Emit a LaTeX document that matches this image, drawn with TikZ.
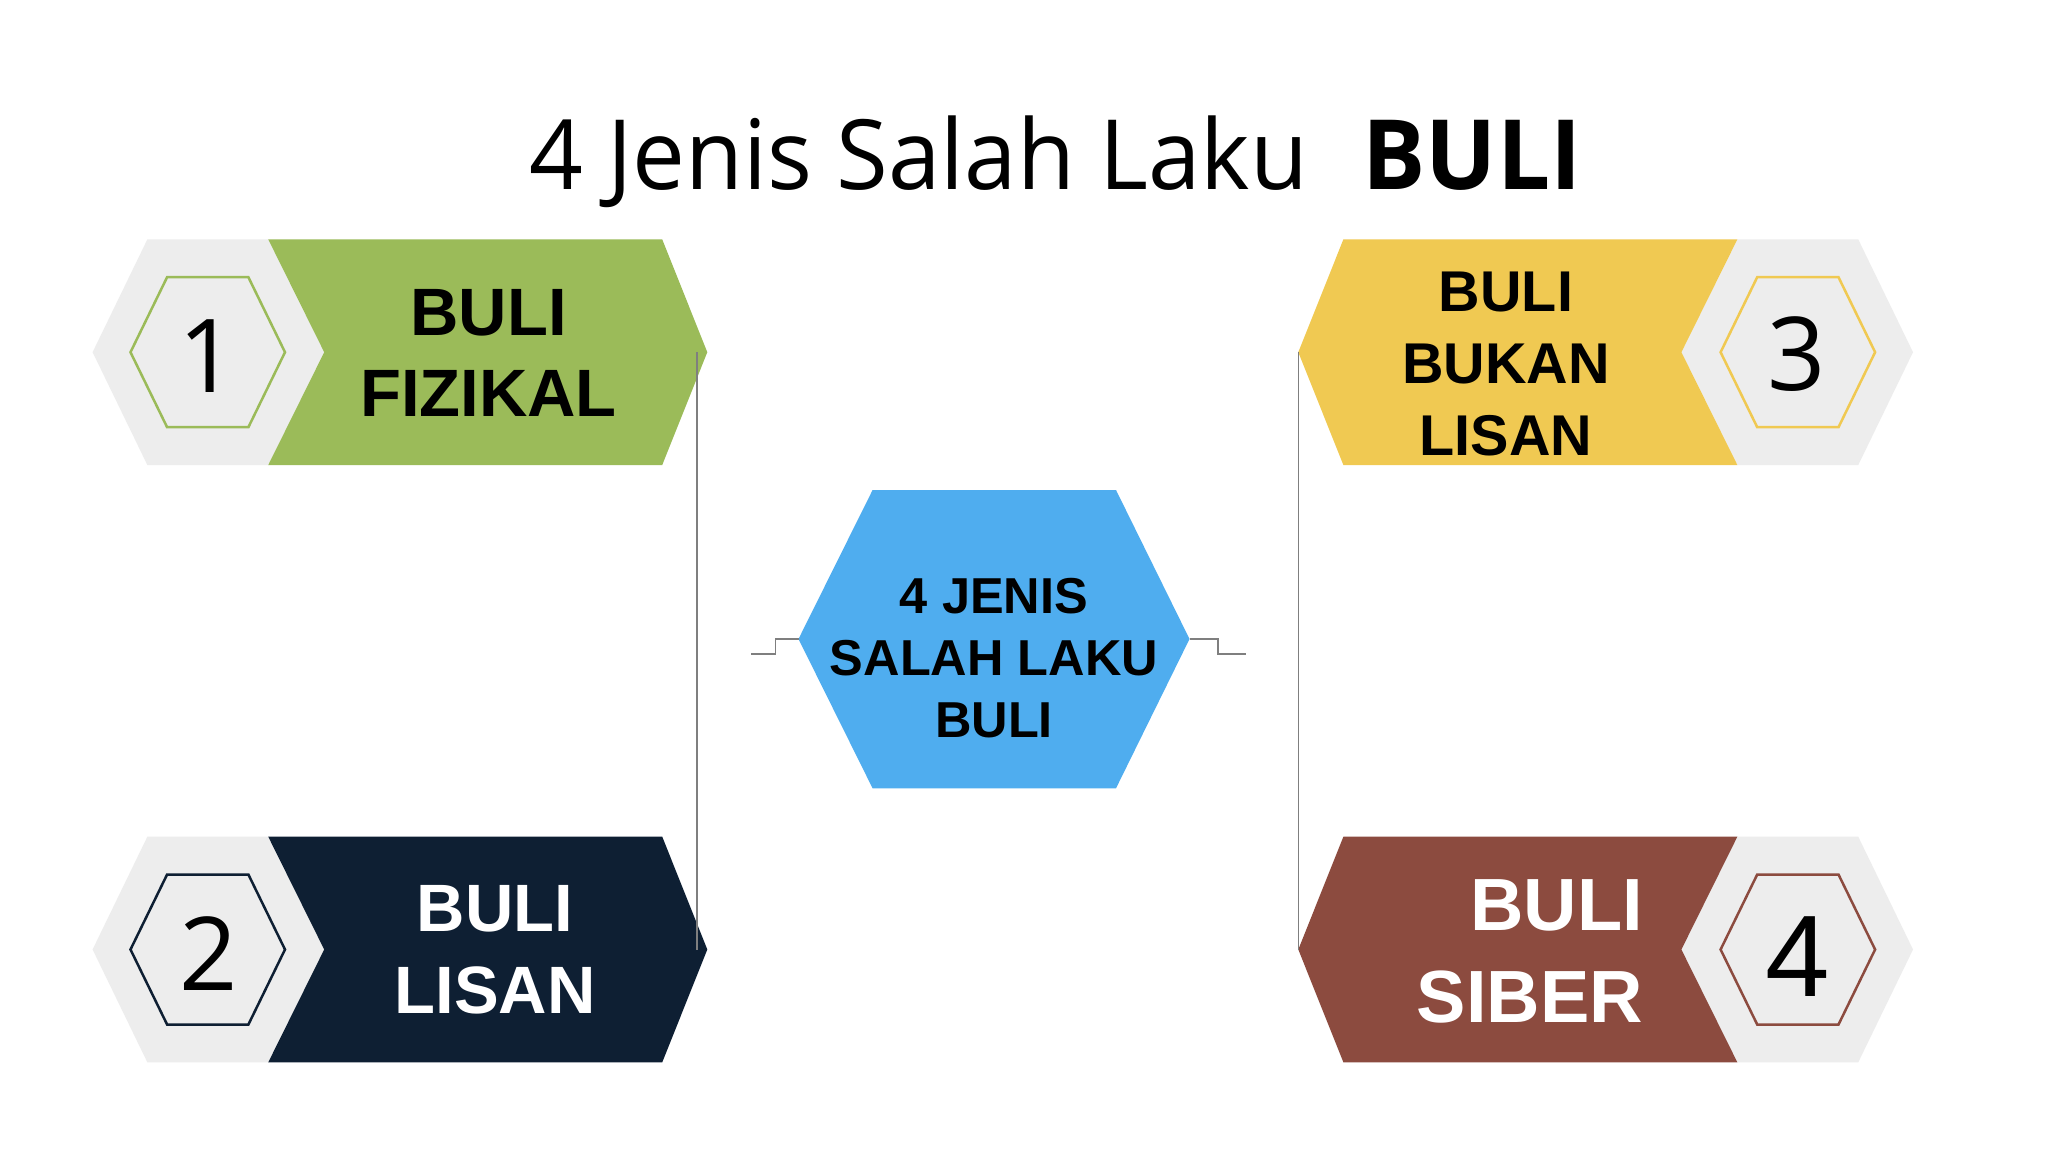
\documentclass[tikz,border=0pt]{standalone}
\usepackage{fontspec}
\setmainfont{Liberation Sans}
\newfontfamily\titlefont{Open Sans}
\newfontfamily\armfont{Liberation Sans}
\definecolor{hexgray}{HTML}{EDEDED}
\definecolor{cgreen}{HTML}{9BBB59}
\definecolor{cnavy}{HTML}{0E1F33}
\definecolor{cyellow}{HTML}{F0C952}
\definecolor{cbrown}{HTML}{8C4B3F}
\definecolor{cblue}{HTML}{4FADEF}
\definecolor{connline}{HTML}{7F7F7F}
\begin{document}
\begin{tikzpicture}[x=1pt,y=-1pt,
  hexline/.style={line width=2.5pt, line join=miter},
  conn/.style={draw=connline, line width=1.5pt},
  boxtxt/.style={inner sep=0pt, align=center, anchor=base},
  digit/.style={inner sep=0pt, anchor=base, font=\titlefont\fontsize{102}{110}\selectfont}]
\useasboundingbox[fill=white] (0,0) rectangle (2048,1152);

% title
\node[anchor=base west, inner sep=0pt] (title) at (529,189.4)
  {\titlefont\fontsize{97}{110}\selectfont\scalebox{0.9715}[1]{4 Jenis Salah Laku\hspace{56pt}\bfseries BULI}};

% left boxes
\foreach \c/\col in {352.2/cgreen, 949.5/cnavy}{
\begin{scope}[shift={(0,\c)}]
  \fill[hexgray] (92.6,0) -- (147.4,-112.9) -- (268.2,-112.9) -- (324.2,0) -- (268.2,112.9) -- (147.4,112.9) -- cycle;
  \fill[\col] (268.2,-112.9) -- (662.2,-112.9) -- (707.3,0) -- (662.2,112.9) -- (268.2,112.9) -- (324.2,0) -- cycle;
  \draw[hexline, draw=\col] (130.5,0) -- (167.1,-75) -- (248.4,-75) -- (285,0) -- (248.4,75) -- (167.1,75) -- cycle;
\end{scope}}
% right boxes (mirrored)
\foreach \c/\col in {352.2/cyellow, 949.5/cbrown}{
\begin{scope}[shift={(2005.6,\c)}, xscale=-1]
  \fill[hexgray] (92.6,0) -- (147.4,-112.9) -- (268.2,-112.9) -- (324.2,0) -- (268.2,112.9) -- (147.4,112.9) -- cycle;
  \fill[\col] (268.2,-112.9) -- (662.2,-112.9) -- (707.3,0) -- (662.2,112.9) -- (268.2,112.9) -- (324.2,0) -- cycle;
  \draw[hexline, draw=\col] (130.5,0) -- (167.1,-75) -- (248.4,-75) -- (285,0) -- (248.4,75) -- (167.1,75) -- cycle;
\end{scope}}

% central hexagon
\fill[cblue] (798.5,639) -- (872.6,490) -- (1116,490) -- (1189.5,639) -- (1116,788.3) -- (872.6,788.3) -- cycle;

% connector points
\coordinate (tipA) at (697,352.2);
\coordinate (tipB) at (697,949.5);
\coordinate (tipC) at (1298.4,352.2);
\coordinate (tipD) at (1298.4,949.5);
\coordinate (hexL) at (798.5,639);
\coordinate (hexR) at (1189.5,639);
\coordinate (stubL) at (751.4,654);
\coordinate (stubR) at (1246.3,654);
\draw[conn] (tipA) -- (tipB);
\draw[conn] (tipC) -- (tipD);
\draw[conn] (stubL) -- ++(24.1,0) |- (hexL);
\draw[conn] (hexR) -- ++(28.5,0) |- (stubR);

% digits
\node[digit] (n1) at (207.8,392.5) {1};
\node[digit] (n2) at (208.3,990) {2};
\node[digit] (n3) at (1797,390) {3};
\node[inner sep=0pt, anchor=base, font=\armfont\fontsize{116}{120}\selectfont] (n4) at (1797.5,996.7) {4};

% box labels (anchor = baseline of last line)
\node[boxtxt, font=\bfseries\fontsize{67}{81.7}\selectfont] (lab1) at (488.5,416.7) {BULI\\FIZIKAL};
\node[boxtxt, text=white, font=\bfseries\fontsize{67}{82.3}\selectfont] (lab2) at (495,1013.3) {BULI\\LISAN};
\node[boxtxt, font=\bfseries\fontsize{57.5}{71.7}\selectfont] (lab3) at (1506,455) {BULI\\BUKAN\\LISAN};
\node[inner sep=0pt, align=right, anchor=base east, text=white, font=\bfseries\fontsize{74}{92.7}\selectfont] (lab4) at (1643,1022.7) {BULI\\SIBER};
\node[boxtxt, font=\bfseries\fontsize{50.5}{61.7}\selectfont] (center) at (994,737) {4 JENIS\\SALAH LAKU\\BULI};
\end{tikzpicture}
\end{document}
